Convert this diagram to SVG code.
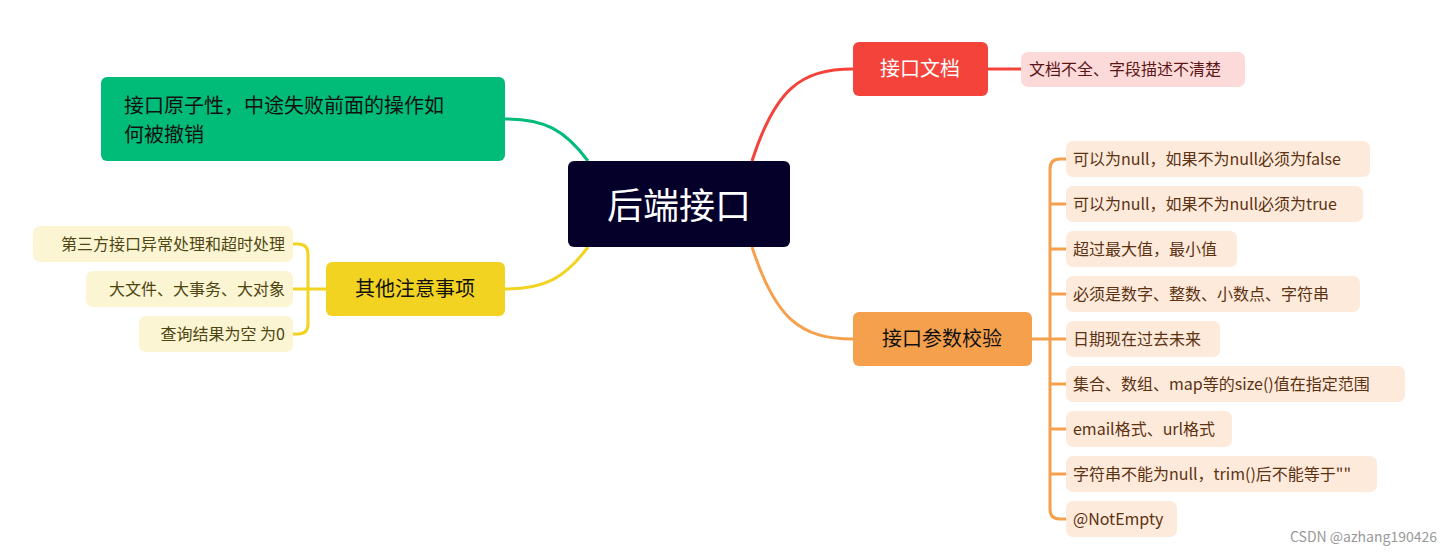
<svg xmlns="http://www.w3.org/2000/svg" width="1452" height="556" viewBox="0 0 1452 556">
<style>
text{font-family:"Noto Sans CJK SC","Liberation Sans",sans-serif}
.l{font-size:16px}
.m{font-size:20px}
.ol{fill:#fdeadb}.ot{fill:#5c3212}
.yl{fill:#fcf5d3}.yt{fill:#4e4512}
.c{fill:none;stroke-width:3}
</style>
<rect width="1452" height="556" fill="#fff"/>
<g id="connectors">
<path class="c" stroke="#f4433b" d="M752 161 C775 90 800 69 853 69"/>
<path class="c" stroke="#f4433b" d="M988 69 H1021"/>
<path class="c" stroke="#f5a04c" d="M752 247 C775 318 800 339 853 339"/>
<path class="c" stroke="#00bc78" d="M588 161 C565 130 545 119 505 119"/>
<path class="c" stroke="#f2d322" d="M588 247 C565 278 545 289 505 289"/>
<path class="c" stroke="#f5a04c" stroke-width="2" d="M1032 339 H1066 M1066 159 H1060 Q1050 159 1050 169 V509 Q1050 519 1060 519 H1066 M1050 204 Q1050 204 1066 204 M1050 249 H1066 M1050 294 H1066 M1050 384 H1066 M1050 429 H1066 M1050 474 H1066"/>
<path class="c" stroke="#f2d322" stroke-width="2" d="M326 289 H293 M293 244 H298 Q308 244 308 254 V324 Q308 334 298 334 H293"/>
</g>
<g id="center"><rect x="568" y="161" width="222" height="86" rx="6" fill="#04002a"/><text x="679" y="219" font-size="36" fill="#fff" text-anchor="middle">后端接口</text></g>
<g id="doc"><rect x="853" y="42" width="135" height="54" rx="6" fill="#f4433b"/><text x="920" y="76" class="m" fill="#fff" text-anchor="middle">接口文档</text></g>
<g id="doc1"><rect x="1021" y="52" width="224" height="35" rx="7" fill="#fddada"/><text x="1029" y="75" class="l" fill="#5a1616">文档不全、字段描述不清楚</text></g>
<g id="atom"><rect x="101" y="77" width="404" height="84" rx="6" fill="#00bc78"/><text x="124" y="113" class="m" fill="#111">接口原子性，中途失败前面的操作如</text><text x="124" y="142" class="m" fill="#111">何被撤销</text></g>
<g id="other"><rect x="326" y="262" width="179" height="54" rx="6" fill="#f2d322"/><text x="415" y="296" class="m" fill="#111" text-anchor="middle">其他注意事项</text></g>
<g id="y1"><rect class="yl" x="33" y="226" width="260" height="36" rx="7"/><text class="l yt" x="285" y="250" text-anchor="end">第三方接口异常处理和超时处理</text></g>
<g id="y2"><rect class="yl" x="86" y="271" width="207" height="36" rx="7"/><text class="l yt" x="285" y="295" text-anchor="end">大文件、大事务、大对象</text></g>
<g id="y3"><rect class="yl" x="139" y="316" width="154" height="36" rx="7"/><text class="l yt" x="285" y="340" text-anchor="end">查询结果为空 为0</text></g>
<g id="param"><rect x="853" y="312" width="179" height="54" rx="6" fill="#f5a04c"/><text x="942" y="346" class="m" fill="#111" text-anchor="middle">接口参数校验</text></g>
<g id="o1"><rect class="ol" x="1066" y="141" width="304" height="36" rx="7"/><text class="l ot" x="1073" y="165">可以为null，如果不为null必须为false</text></g>
<g id="o2"><rect class="ol" x="1066" y="186" width="297" height="36" rx="7"/><text class="l ot" x="1073" y="210">可以为null，如果不为null必须为true</text></g>
<g id="o3"><rect class="ol" x="1066" y="231" width="171" height="36" rx="7"/><text class="l ot" x="1073" y="255">超过最大值，最小值</text></g>
<g id="o4"><rect class="ol" x="1066" y="276" width="294" height="36" rx="7"/><text class="l ot" x="1073" y="300">必须是数字、整数、小数点、字符串</text></g>
<g id="o5"><rect class="ol" x="1066" y="321" width="154" height="36" rx="7"/><text class="l ot" x="1073" y="345">日期现在过去未来</text></g>
<g id="o6"><rect class="ol" x="1066" y="366" width="339" height="36" rx="7"/><text class="l ot" x="1073" y="390">集合、数组、map等的size()值在指定范围</text></g>
<g id="o7"><rect class="ol" x="1066" y="411" width="166" height="36" rx="7"/><text class="l ot" x="1073" y="435">email格式、url格式</text></g>
<g id="o8"><rect class="ol" x="1066" y="456" width="311" height="36" rx="7"/><text class="l ot" x="1073" y="480">字符串不能为null，trim()后不能等于""</text></g>
<g id="o9"><rect class="ol" x="1066" y="501" width="111" height="36" rx="7"/><text class="l ot" x="1073" y="525">@NotEmpty</text></g>
<text x="1437" y="542" font-size="14" fill="#999" text-anchor="end">CSDN @azhang190426</text>
</svg>
